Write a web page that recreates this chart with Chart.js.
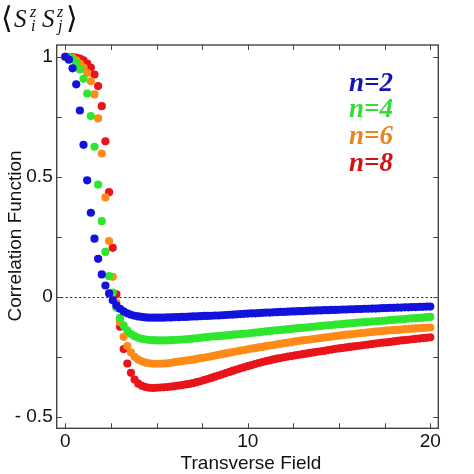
<!DOCTYPE html>
<html>
<head>
<meta charset="utf-8">
<script src="https://cdn.jsdelivr.net/npm/chart.js@4.4.1/dist/chart.umd.min.js"></script>
<style>
  html, body { margin: 0; padding: 0; background: #fff; }
</style>
</head>
<body>
<canvas id="corrChart" width="474" height="474"></canvas>
<script>
// transverse field values (same grid for all four curves)
const field = [
  0, 0.2, 0.4, 0.6, 0.8, 1, 1.2, 1.4, 1.6, 1.8,
  2, 2.2, 2.4, 2.6, 2.8, 3, 3.2, 3.4, 3.6, 3.8,
  4, 4.2, 4.4, 4.6, 4.8, 5, 5.2, 5.4, 5.6, 5.8,
  6, 6.2, 6.4, 6.6, 6.8, 7, 7.2, 7.4, 7.6, 7.8,
  8, 8.2, 8.4, 8.6, 8.8, 9, 9.2, 9.4, 9.6, 9.8,
  10, 10.2, 10.4, 10.6, 10.8, 11, 11.2, 11.4, 11.6, 11.8,
  12, 12.2, 12.4, 12.6, 12.8, 13, 13.2, 13.4, 13.6, 13.8,
  14, 14.2, 14.4, 14.6, 14.8, 15, 15.2, 15.4, 15.6, 15.8,
  16, 16.2, 16.4, 16.6, 16.8, 17, 17.2, 17.4, 17.6, 17.8,
  18, 18.2, 18.4, 18.6, 18.8, 19, 19.2, 19.4, 19.6, 19.8,
  20
];

// correlation function <Sz_i Sz_j>, one array per n
const corrN2 = [
  1.000, 0.988, 0.952, 0.885, 0.776, 0.633, 0.485, 0.350, 0.242, 0.158,
  0.093, 0.047, 0.014, -0.015, -0.036, -0.050, -0.061, -0.069, -0.075, -0.079,
  -0.082, -0.084, -0.086, -0.087, -0.087, -0.087, -0.087, -0.087, -0.086, -0.086,
  -0.085, -0.085, -0.084, -0.084, -0.083, -0.082, -0.082, -0.081, -0.080, -0.080,
  -0.079, -0.078, -0.078, -0.077, -0.076, -0.075, -0.074, -0.073, -0.072, -0.071,
  -0.070, -0.069, -0.069, -0.068, -0.067, -0.066, -0.066, -0.065, -0.064, -0.063,
  -0.063, -0.062, -0.061, -0.061, -0.060, -0.060, -0.059, -0.058, -0.058, -0.057,
  -0.057, -0.056, -0.056, -0.055, -0.055, -0.054, -0.053, -0.053, -0.052, -0.052,
  -0.051, -0.051, -0.050, -0.050, -0.049, -0.049, -0.048, -0.047, -0.047, -0.046,
  -0.046, -0.045, -0.045, -0.044, -0.044, -0.043, -0.043, -0.042, -0.042, -0.041,
  -0.041
];
const corrN4 = [
  1.000, 0.997, 0.990, 0.975, 0.947, 0.908, 0.847, 0.753, 0.625, 0.467,
  0.315, 0.187, 0.086, 0.017, -0.046, -0.088, -0.120, -0.141, -0.155, -0.164,
  -0.171, -0.175, -0.178, -0.180, -0.181, -0.182, -0.182, -0.182, -0.182, -0.181,
  -0.180, -0.179, -0.178, -0.177, -0.176, -0.174, -0.173, -0.171, -0.169, -0.168,
  -0.166, -0.165, -0.164, -0.162, -0.161, -0.160, -0.158, -0.157, -0.156, -0.154,
  -0.153, -0.151, -0.149, -0.148, -0.146, -0.144, -0.143, -0.141, -0.140, -0.138,
  -0.137, -0.135, -0.134, -0.132, -0.131, -0.129, -0.128, -0.126, -0.125, -0.123,
  -0.122, -0.120, -0.119, -0.118, -0.116, -0.115, -0.114, -0.112, -0.111, -0.110,
  -0.108, -0.107, -0.106, -0.105, -0.103, -0.102, -0.101, -0.100, -0.099, -0.097,
  -0.096, -0.095, -0.094, -0.093, -0.091, -0.090, -0.089, -0.088, -0.087, -0.085,
  -0.084
];
const corrN6 = [
  1.000, 0.999, 0.995, 0.985, 0.972, 0.955, 0.933, 0.898, 0.843, 0.743,
  0.597, 0.414, 0.232, 0.083, -0.025, -0.106, -0.167, -0.205, -0.232, -0.250,
  -0.262, -0.269, -0.274, -0.277, -0.279, -0.279, -0.279, -0.278, -0.277, -0.275,
  -0.272, -0.270, -0.268, -0.266, -0.264, -0.262, -0.259, -0.256, -0.254, -0.251,
  -0.248, -0.245, -0.242, -0.239, -0.236, -0.233, -0.230, -0.227, -0.224, -0.222,
  -0.219, -0.216, -0.214, -0.211, -0.209, -0.206, -0.203, -0.201, -0.198, -0.196,
  -0.193, -0.191, -0.189, -0.186, -0.184, -0.182, -0.180, -0.178, -0.176, -0.174,
  -0.172, -0.170, -0.168, -0.166, -0.164, -0.162, -0.160, -0.158, -0.157, -0.155,
  -0.153, -0.151, -0.150, -0.148, -0.147, -0.145, -0.144, -0.143, -0.141, -0.140,
  -0.139, -0.138, -0.137, -0.135, -0.134, -0.133, -0.132, -0.131, -0.130, -0.129,
  -0.128
];
const corrN8 = [
  1.000, 1.000, 0.999, 0.997, 0.992, 0.985, 0.972, 0.955, 0.926, 0.878,
  0.794, 0.648, 0.436, 0.204, 0.010, -0.125, -0.218, -0.278, -0.317, -0.345,
  -0.362, -0.371, -0.376, -0.379, -0.380, -0.379, -0.378, -0.377, -0.376, -0.374,
  -0.372, -0.370, -0.368, -0.365, -0.363, -0.360, -0.356, -0.352, -0.347, -0.343,
  -0.338, -0.333, -0.328, -0.323, -0.318, -0.313, -0.308, -0.303, -0.298, -0.294,
  -0.289, -0.285, -0.280, -0.276, -0.272, -0.268, -0.265, -0.261, -0.258, -0.255,
  -0.252, -0.249, -0.247, -0.244, -0.242, -0.239, -0.237, -0.234, -0.232, -0.229,
  -0.227, -0.225, -0.222, -0.220, -0.217, -0.215, -0.213, -0.211, -0.209, -0.207,
  -0.205, -0.203, -0.201, -0.199, -0.197, -0.195, -0.193, -0.191, -0.190, -0.188,
  -0.186, -0.184, -0.182, -0.181, -0.179, -0.177, -0.175, -0.174, -0.172, -0.171,
  -0.169
];

const seriesLabels = ['n=2', 'n=4', 'n=6', 'n=8'];
const xTickLabels = [0, 10, 20];
const yTickLabels = [-0.5, 0, 0.5, 1];

const dotColors = ['#1212dc', '#2ee62e', '#ff8a17', '#e8141a'];
const textColors = ['#1414b4', '#33dd33', '#e8861e', '#d01212'];

function toPoints(ys) {
  return field.map((x, i) => ({ x: x, y: ys[i] }));
}

const allSeries = [corrN2, corrN4, corrN6, corrN8];
const datasets = allSeries.map((ys, k) => ({
  label: seriesLabels[k],
  data: toPoints(ys),
  backgroundColor: dotColors[k],
  borderColor: dotColors[k],
  borderWidth: 0,
  pointRadius: 4.1,
  showLine: false
}));

// frame, inner tick marks, dotted zero line, labels
const decorPlugin = {
  id: 'decor',
  beforeDatasetsDraw(chart) {
    const { ctx, chartArea: a, scales: { x, y } } = chart;
    ctx.save();
    ctx.strokeStyle = '#222';
    ctx.lineWidth = 1;
    ctx.setLineDash([2, 2.5]);
    const y0 = Math.round(y.getPixelForValue(0)) + 0.5;
    ctx.beginPath();
    ctx.moveTo(a.left, y0);
    ctx.lineTo(a.right, y0);
    ctx.stroke();
    ctx.restore();
  },
  afterDraw(chart) {
    const { ctx, chartArea: a, scales: { x, y } } = chart;
    ctx.save();
    ctx.strokeStyle = '#444';
    ctx.lineWidth = 1.4;
    ctx.strokeRect(a.left, a.top, a.right - a.left, a.bottom - a.top);

    ctx.lineWidth = 1;
    ctx.beginPath();
    for (let v = 0; v <= 20; v += 2.5) {
      const px = Math.round(x.getPixelForValue(v)) + 0.5;
      ctx.moveTo(px, a.bottom); ctx.lineTo(px, a.bottom - 5);
      ctx.moveTo(px, a.top); ctx.lineTo(px, a.top + 5);
    }
    for (let v = -0.5; v <= 1; v += 0.25) {
      const py = Math.round(y.getPixelForValue(v)) + 0.5;
      ctx.moveTo(a.left, py); ctx.lineTo(a.left + 5, py);
      ctx.moveTo(a.right, py); ctx.lineTo(a.right - 5, py);
    }
    ctx.stroke();

    // axis titles
    ctx.fillStyle = '#111';
    ctx.font = '19px "Liberation Sans", Arial, sans-serif';
    ctx.textAlign = 'center';
    ctx.textBaseline = 'alphabetic';
    ctx.fillText('Transverse Field', 251, 469);
    ctx.save();
    ctx.translate(21, 236);
    ctx.rotate(-Math.PI / 2);
    ctx.fillText('Correlation Function', 0, 0);
    ctx.restore();

    // series labels
    ctx.textAlign = 'left';
    ctx.font = 'italic bold 27px "Liberation Serif", "Times New Roman", serif';
    const baselines = [90.5, 117, 143.5, 170.5];
    seriesLabels.forEach((t, k) => {
      ctx.fillStyle = textColors[k];
      ctx.fillText(t, 349, baselines[k]);
    });

    // <S_i^z S_j^z>
    ctx.fillStyle = '#111';
    ctx.font = '30px "DejaVu Serif", serif';
    ctx.textBaseline = 'middle';
    ctx.fillText('\u27E8', 1, 20);
    ctx.fillText('\u27E9', 66, 20);
    ctx.textBaseline = 'alphabetic';
    ctx.font = 'italic 25px "Liberation Serif", serif';
    ctx.fillText('S', 14, 27);
    ctx.fillText('S', 42, 27);
    ctx.font = 'italic 16px "Liberation Serif", serif';
    ctx.fillText('z', 30, 17);
    ctx.fillText('i', 31, 31);
    ctx.fillText('z', 57, 17);
    ctx.fillText('j', 58, 31);
    ctx.restore();
  }
};

const ctx = document.getElementById('corrChart').getContext('2d');
new Chart(ctx, {
  type: 'scatter',
  data: { datasets: datasets },
  options: {
    responsive: false,
    animation: false,
    layout: { padding: { top: 45, right: 35.7, left: 0, bottom: 0 } },
    plugins: { legend: { display: false }, tooltip: { enabled: false } },
    scales: {
      x: {
        type: 'linear',
        min: -0.47,
        max: 20.44,
        afterFit(s) { s.height = 45.7; },
        afterBuildTicks(s) { s.ticks = xTickLabels.map(v => ({ value: v })); },
        grid: { display: false, drawTicks: false },
        border: { display: false },
        ticks: {
          padding: 2,
          color: '#111',
          maxRotation: 0,
          autoSkip: false,
          font: { family: '"Liberation Sans", Arial, sans-serif', size: 19 },
          callback: v => String(v)
        }
      },
      y: {
        type: 'linear',
        min: -0.548,
        max: 1.049,
        afterFit(s) { s.width = 56.7; },
        afterBuildTicks(s) { s.ticks = yTickLabels.map(v => ({ value: v })); },
        grid: { display: false, drawTicks: false },
        border: { display: false },
        ticks: {
          padding: 4,
          color: '#111',
          autoSkip: false,
          font: { family: '"Liberation Sans", Arial, sans-serif', size: 19 },
          callback: v => (v < 0 ? '- ' + Math.abs(v) : String(v))
        }
      }
    }
  },
  plugins: [decorPlugin]
});
</script>
</body>
</html>
